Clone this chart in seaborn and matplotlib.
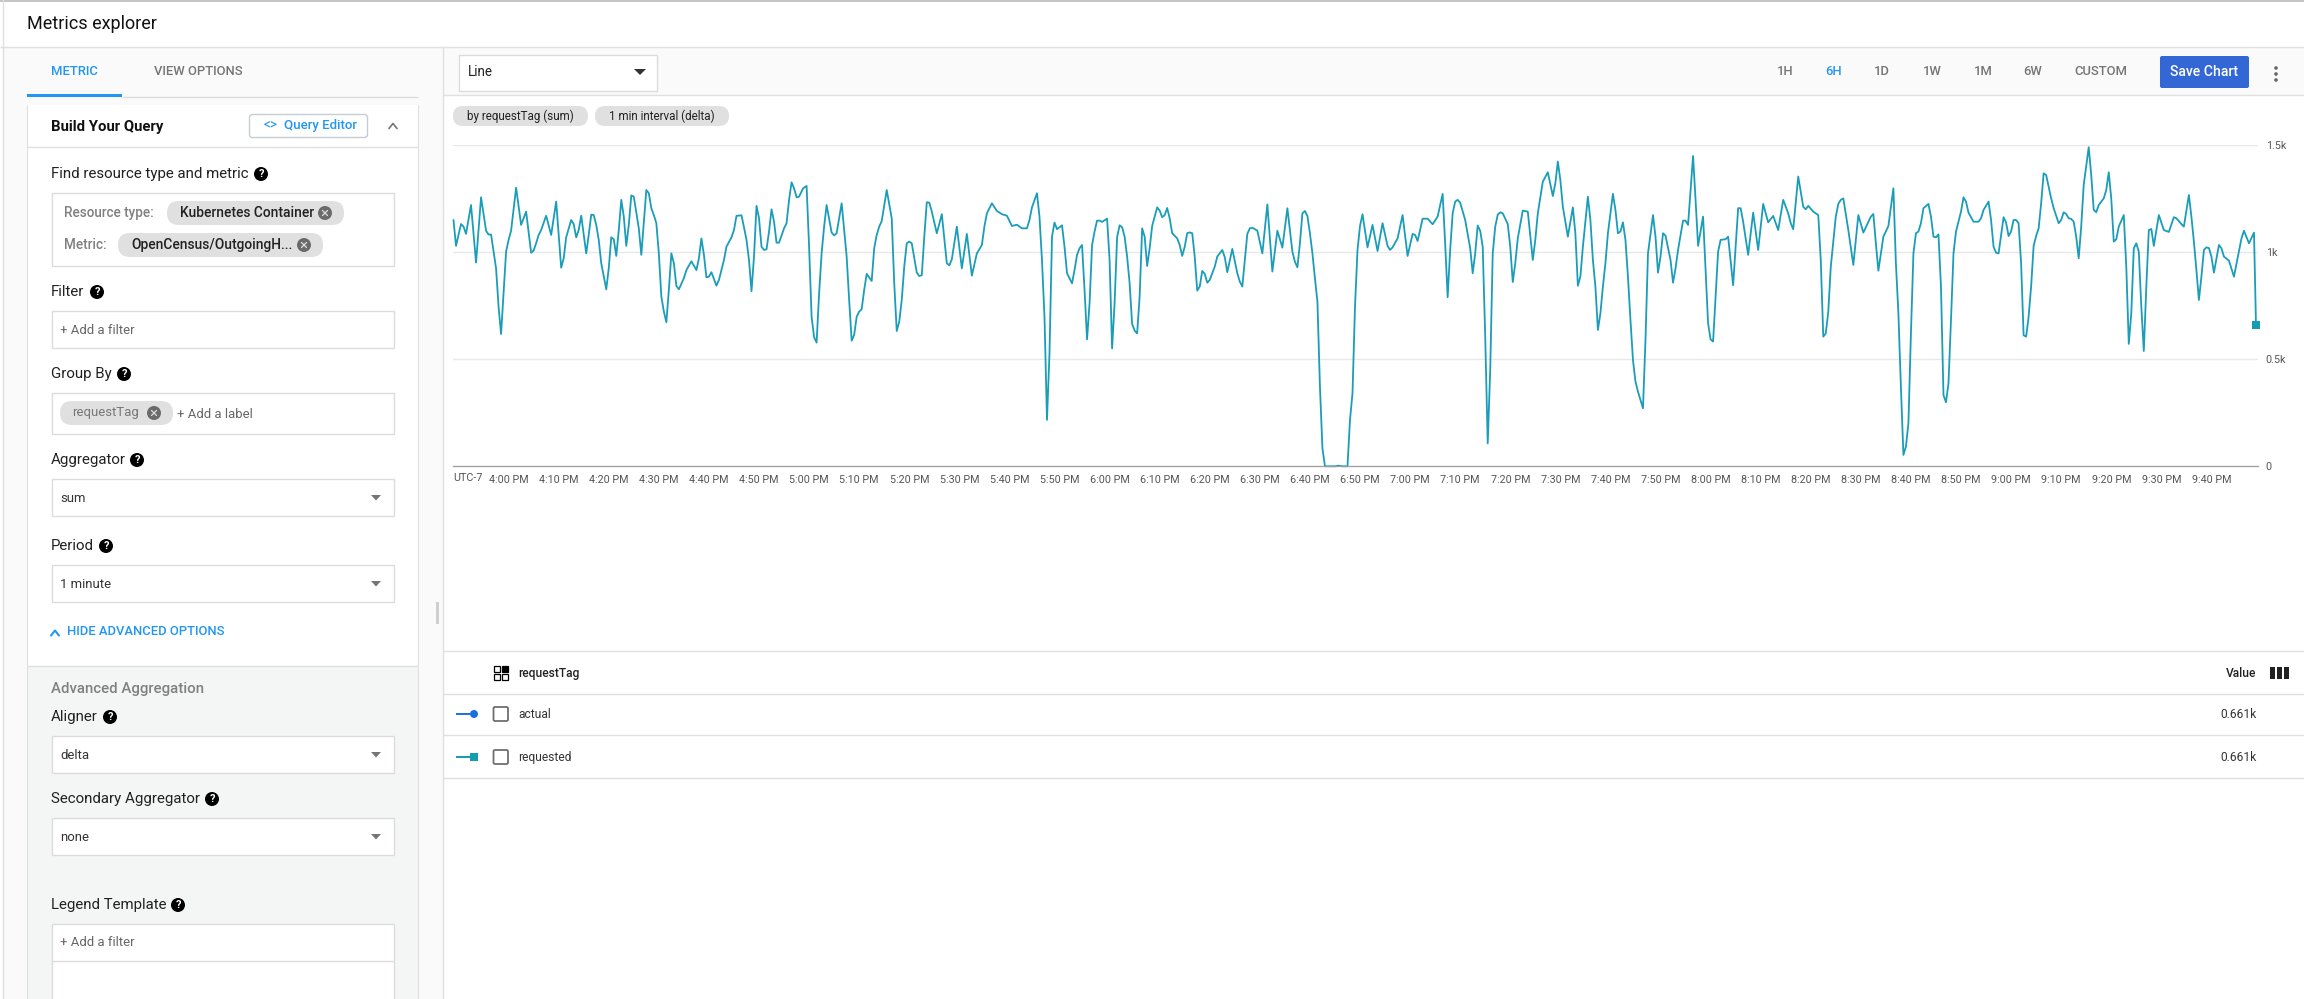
import pandas as pd
import matplotlib
matplotlib.use('Agg')
import matplotlib.pyplot as plt
from matplotlib.patches import Rectangle, FancyBboxPatch, Circle, Polygon
import seaborn as sns

# ---- data: minutes after 4:00 PM, request count ----
minutes = [
    -11, -10.5, -9.5, -9, -8.5, -7.5, -6.5, -5.5, -4.5, -4,
    -3.5, -2.5, -2, -1.5, -0.5, 0, 0.5, 1.5, 2.5, 3.5,
    4.5, 5, 5.5, 6, 6.5, 7.5, 8.5, 9.5, 10.5, 11,
    11.5, 12.5, 13, 13.5, 14, 14.5, 15.5, 16, 16.5, 17,
    17.5, 18, 18.5, 19.5, 20, 20.5, 21, 21.5, 22, 22.5,
    23, 23.5, 24, 24.5, 25, 26, 26.5, 27.5, 28, 28.5,
    29, 29.5, 30, 30.5, 31, 31.5, 32, 32.5, 33, 33.5,
    34, 35, 35.5, 36.5, 37.5, 38, 38.5, 39, 39.5, 40,
    40.5, 41.5, 42, 43, 43.5, 44.5, 45, 45.5, 46.5, 47,
    47.5, 48, 48.5, 49, 49.5, 50, 50.5, 51, 51.5, 52,
    52.5, 53, 53.5, 54, 55, 55.5, 56, 56.5, 57, 57.5,
    58, 58.8, 59.5, 60, 60.5, 61, 61.5, 62, 62.5, 63,
    63.5, 64.5, 65, 65.5, 66.5, 67.5, 68, 68.5, 69, 69.5,
    70, 70.5, 71, 71.5, 72.5, 73, 73.5, 74, 74.5, 75.5,
    76.5, 77, 77.5, 78, 78.5, 79, 79.5, 80, 80.5, 81.5,
    82, 82.5, 83, 83.5, 84, 84.5, 85.5, 86.5, 87.5, 88,
    88.5, 89.5, 90.5, 91.5, 92.5, 93.5, 94.5, 95, 95.5, 96.5,
    97.5, 98.5, 99.5, 100.5, 101.5, 102.5, 103.5, 104, 104.5, 105.5,
    106, 106.5, 107, 107.5, 108, 108.5, 109, 109.5, 110.5, 111,
    111.5, 112.5, 113, 113.5, 114, 114.5, 115, 115.5, 116, 116.5,
    117, 117.5, 118, 118.5, 119.5, 120, 120.5, 121, 121.5, 122,
    122.5, 123, 123.5, 124, 124.5, 125, 125.5, 126, 126.5, 127,
    127.5, 128, 128.5, 129.5, 130, 130.5, 131, 131.5, 132, 132.5,
    133.5, 134, 134.5, 135, 135.5, 136, 136.5, 137, 137.5, 138,
    138.5, 139, 139.5, 140, 141, 141.5, 142.5, 143, 143.5, 144.5,
    145.5, 146, 146.5, 147, 147.5, 148, 148.5, 149.5, 150.5, 151.5,
    152.5, 153.5, 154.5, 155.5, 156.5, 157, 157.5, 158, 158.5, 159,
    159.5, 160, 160.5, 161, 161.5, 162, 162.5, 163, 164, 165,
    165.7, 166.5, 167.5, 168, 168.5, 169, 169.5, 170, 170.5, 171.5,
    172.5, 173.5, 174.5, 175.5, 176, 176.5, 177.5, 178.5, 179.5, 180.5,
    181, 181.5, 182.5, 183.5, 184.5, 185.5, 186.5, 187, 187.5, 188,
    188.5, 189, 189.5, 190, 191, 192, 192.5, 193, 193.5, 194,
    194.5, 195, 195.5, 196, 196.5, 197, 197.5, 198, 198.5, 199.5,
    200, 200.5, 201, 201.5, 202.5, 203.5, 204.5, 205, 205.5, 206.5,
    207.5, 208.5, 209, 209.5, 210, 210.5, 211.5, 212.5, 213, 213.5,
    214, 214.5, 215.5, 216, 216.5, 217, 217.5, 218, 218.5, 219,
    219.5, 220.5, 221, 221.5, 222, 222.5, 223, 223.5, 224, 224.5,
    225, 225.5, 226.5, 227, 227.5, 228.5, 229, 229.5, 230, 230.5,
    231, 232, 232.5, 233, 233.5, 234.5, 235, 235.5, 236.5, 237,
    237.5, 238.5, 239, 239.5, 240, 240.5, 241.5, 242, 243, 243.5,
    244.5, 245.5, 246, 246.5, 247.5, 248.5, 249.5, 250.5, 251.5, 252.5,
    253.5, 254.5, 255.5, 256, 256.5, 257.5, 258.5, 259, 259.5, 260.5,
    261.5, 262, 262.5, 263, 263.5, 264, 264.5, 265, 265.5, 266,
    266.5, 267.5, 268.5, 269.5, 270.5, 272, 272.5, 273, 273.5, 274.5,
    275.5, 276.5, 277, 277.5, 278, 278.5, 279, 279.5, 280, 280.5,
    281, 281.5, 282, 282.5, 283.5, 284, 284.5, 285, 285.5, 286,
    286.5, 287, 287.5, 288, 288.5, 289, 290, 290.5, 291, 291.5,
    292.5, 293.5, 294, 294.5, 295.5, 296, 296.5, 297, 297.5, 298.5,
    299, 299.5, 300, 300.5, 301, 301.5, 302, 302.5, 303, 303.5,
    304, 304.5, 305, 305.5, 306, 306.5, 307, 308, 308.5, 309.5,
    310, 310.5, 311, 311.5, 312, 312.5, 313, 313.5, 314, 314.5,
    315.5, 316, 316.5, 317, 317.5, 318.5, 319, 319.5, 320, 320.5,
    321, 321.5, 322.5, 323, 323.5, 324, 324.5, 325, 325.5, 326,
    326.5, 327, 327.5, 328, 328.5, 329.5, 330.5, 331.5, 332.5, 333,
    334, 334.5, 335.5, 336, 336.5, 337, 337.5, 338, 338.5, 339,
    339.5, 340, 340.5, 341.5, 342, 342.5, 343.5, 344.5, 346, 346.5,
    347.5, 348.5, 348.9,
]
requests = [
    1151, 1030, 1132, 1120, 1086, 1221, 952, 1257, 1101, 1083,
    1083, 925, 746, 618, 1003, 1058, 1101, 1302, 1128, 1190,
    998, 1008, 1042, 1081, 1104, 1171, 1081, 1237, 928, 972,
    1070, 1151, 1132, 1070, 1104, 1171, 995, 1081, 1176, 1174,
    1128, 1058, 949, 827, 925, 1070, 1061, 983, 1104, 1245,
    1167, 1030, 1128, 1266, 1260, 1112, 988, 1291, 1276, 1206,
    1174, 1136, 995, 793, 723, 673, 824, 995, 949, 843,
    827, 879, 917, 958, 917, 972, 1065, 988, 883, 886,
    907, 844, 871, 964, 1026, 1070, 1104, 1170, 1173, 1117,
    1058, 964, 818, 980, 1217, 1159, 1026, 1011, 1014, 1097,
    1201, 1143, 1045, 1045, 1112, 1136, 1245, 1327, 1299, 1257,
    1260, 1299, 1310, 1026, 699, 603, 578, 808, 995, 1120,
    1221, 1092, 1079, 1089, 1229, 980, 777, 587, 614, 699,
    723, 734, 824, 899, 866, 1019, 1081, 1120, 1146, 1291,
    1159, 855, 632, 676, 777, 933, 1042, 1050, 1042, 905,
    889, 893, 1073, 1234, 1232, 1190, 1089, 1178, 949, 939,
    967, 1120, 925, 1086, 891, 995, 1034, 1120, 1182, 1229,
    1193, 1178, 1171, 1123, 1129, 1112, 1112, 1151, 1210, 1276,
    1167, 964, 699, 217, 528, 1073, 1139, 1108, 1126, 1026,
    902, 855, 917, 988, 1019, 1034, 824, 593, 762, 1034,
    1097, 1148, 1148, 1142, 1157, 964, 551, 762, 1070, 1126,
    1117, 1073, 980, 855, 665, 634, 621, 793, 1112, 1073,
    936, 1019, 1123, 1210, 1195, 1164, 1174, 1207, 1159, 1089,
    1065, 1034, 983, 1026, 1089, 1093, 1089, 980, 821, 840,
    913, 899, 858, 871, 933, 980, 1011, 977, 907, 1016,
    902, 863, 840, 964, 1086, 1112, 1115, 1101, 995, 1224,
    910, 1101, 1022, 1206, 1003, 956, 930, 1042, 1182, 1193,
    1170, 1089, 995, 879, 769, 372, 84, 0, 0, 0,
    3, 0, 0, 217, 341, 746, 1011, 1123, 1178, 1023,
    1128, 1006, 1136, 1030, 1011, 1023, 1065, 1174, 983, 1086,
    1081, 1053, 1157, 1157, 1131, 1167, 1273, 1042, 790, 1011,
    1182, 1237, 1245, 1232, 1151, 1019, 902, 995, 1125, 1100,
    1026, 606, 107, 450, 995, 1120, 1176, 1187, 1182, 1132,
    1026, 861, 949, 1065, 1195, 1190, 964, 1058, 1182, 1330,
    1374, 1263, 1322, 1424, 1338, 1213, 1073, 1210, 1089, 844,
    886, 1026, 1260, 1151, 964, 840, 637, 715, 840, 949,
    1089, 1273, 1198, 1089, 1097, 1140, 1058, 886, 684, 497,
    396, 349, 271, 590, 995, 1174, 1073, 905, 980, 1089,
    1078, 964, 858, 925, 1011, 1148, 1148, 1128, 1450, 1245,
    1030, 1167, 917, 668, 593, 583, 1003, 1058, 1061, 1073,
    846, 1206, 1206, 1143, 988, 1185, 1011, 1226, 1140, 1170,
    1104, 1245, 1182, 1136, 1108, 1354, 1213, 1201, 1217, 1190,
    1174, 964, 606, 621, 723, 933, 1050, 1167, 1226, 1245,
    1252, 1104, 941, 1174, 1092, 1167, 1179, 1042, 914, 1073,
    1123, 1299, 949, 715, 372, 53, 92, 201, 621, 995,
    1089, 1097, 1136, 1206, 1226, 1167, 1073, 1070, 1084, 840,
    333, 299, 388, 684, 995, 1097, 1190, 1257, 1237, 1185,
    1143, 1143, 1159, 1198, 1237, 1151, 1026, 998, 995, 1164,
    1139, 1076, 1097, 1151, 1151, 1136, 949, 612, 606, 699,
    840, 1030, 1076, 1112, 1229, 1369, 1361, 1252, 1206, 1136,
    1151, 1187, 1179, 1159, 1156, 1143, 1073, 972, 1120, 1315,
    1491, 1361, 1198, 1187, 1221, 1252, 1291, 1374, 1252, 1050,
    1061, 1120, 1174, 933, 572, 715, 1019, 1042, 1003, 746,
    539, 840, 1104, 1109, 1030, 1174, 1104, 1095, 1164, 1159,
    1132, 1120, 1268, 1167, 1050, 917, 777, 886, 1011, 1023,
    1020, 980, 905, 1034, 1019, 980, 961, 886, 1065, 1101,
    1042, 1092, 661,
]

tick_minutes = [0, 10, 20, 30, 40, 50, 60, 70, 80, 90, 100, 110, 120, 130, 140, 150, 160, 170,
                180, 190, 200, 210, 220, 230, 240, 250, 260, 270, 280, 290, 300, 310, 320, 330, 340]
tick_labels = ['4:00 PM', '4:10 PM', '4:20 PM', '4:30 PM', '4:40 PM', '4:50 PM',
               '5:00 PM', '5:10 PM', '5:20 PM', '5:30 PM', '5:40 PM', '5:50 PM',
               '6:00 PM', '6:10 PM', '6:20 PM', '6:30 PM', '6:40 PM', '6:50 PM',
               '7:00 PM', '7:10 PM', '7:20 PM', '7:30 PM', '7:40 PM', '7:50 PM',
               '8:00 PM', '8:10 PM', '8:20 PM', '8:30 PM', '8:40 PM', '8:50 PM',
               '9:00 PM', '9:10 PM', '9:20 PM', '9:30 PM', '9:40 PM']
y_ticks = [0, 500, 1000, 1500]
y_labels = ['0', '0.5k', '1k', '1.5k']

legend_rows = ['actual', 'requested']
legend_values = ['0.661k', '0.661k']
range_buttons = ['1H', '6H', '1D', '1W', '1M', '6W', 'CUSTOM']

TEAL = '#1a9db8'
TEAL_MARK = '#129eaf'
BLUE = '#2196f3'
ROYAL = '#1a6fe0'
GREY = '#757575'
LINE = '#e0e0e0'

W, H = 2304, 999
sns.set_theme(style='white')
plt.rcParams['font.family'] = ['Roboto', 'DejaVu Sans']

fig = plt.figure(figsize=(W / 100, H / 100), dpi=100, facecolor='white')

# full figure layer in pixels for the console around the chart
ui = fig.add_axes([0, 0, 1, 1], zorder=0)
ui.set_xlim(0, W)
ui.set_ylim(H, 0)
ui.axis('off')


def px(size):
    return size * 0.72


def label(x, y, s, size=15, color='#212121', weight='normal', ha='left'):
    ui.text(x, y + 1.2, s, fontsize=px(size), color=color, fontweight=weight, ha=ha, va='center')


def rect(x0, y0, x1, y1, fc='white', ec='none', lw=1.0):
    ui.add_patch(Rectangle((x0, y0), x1 - x0, y1 - y0, fc=fc, ec=ec, lw=lw))


def hline(y, x0, x1, color=LINE, lw=1.0):
    ui.plot([x0, x1], [y, y], color=color, lw=lw, solid_capstyle='butt')


def rounded(x0, y0, x1, y1, r, fc, ec='none', lw=1.0):
    ui.add_patch(FancyBboxPatch((x0, y0), x1 - x0, y1 - y0, boxstyle=f'round,pad=0,rounding_size={r}',
                                fc=fc, ec=ec, lw=lw))


def help_icon(x, y):
    ui.add_patch(Circle((x, y), 7, fc='black', ec='none'))
    ui.text(x, y + 0.3, '?', fontsize=px(11), color='white', fontweight='bold', ha='center', va='center')


def close_icon(x, y):
    ui.add_patch(Circle((x, y), 7, fc='#6b6b6b', ec='none'))
    ui.plot([x - 2.5, x + 2.5], [y - 2.5, y + 2.5], color='#e0e0e0', lw=0.9)
    ui.plot([x - 2.5, x + 2.5], [y + 2.5, y - 2.5], color='#e0e0e0', lw=0.9)


def arrow(x, y):
    ui.add_patch(Polygon([(x - 5, y - 2.5), (x + 5, y - 2.5), (x, y + 3)], fc='#757575', ec='none'))


def chevron(x, y, color, lw=1.2):
    ui.plot([x - 4, x, x + 4], [y + 2.5, y - 2.5, y + 2.5], color=color, lw=lw)


def field(y0, y1, text=None, color='#333333', drop=False):
    rect(51.5, y0, 393.5, y1, fc='white', ec='#dcdcdc', lw=1.0)
    if text:
        label(60, (y0 + y1) / 2, text, size=13.1, color=color)
    if drop:
        arrow(376, (y0 + y1) / 2 + 0.5)


# page background and header
rect(3, 47, 443, H, fc='#fafafa')
ui.plot([2.5, 2.5], [0, H], color=LINE, lw=1.0)
rect(0, 0, W, 2, fc='#c4c4c4')
hline(47, 0, W)
label(27, 22.5, 'Metrics explorer', size=18, color='#111111')

# left panel, tabs
label(51, 70, 'METRIC', size=13, color=BLUE, weight='medium')
label(154, 70.5, 'VIEW OPTIONS', size=13, color=GREY, weight='medium')
hline(96.5, 122, 418, color='#dddddd')
rect(27, 94, 122, 96.5, fc=BLUE)

# left panel, card
rect(27, 105, 418, 666, fc='white')
rect(27, 666, 418, H, fc='#f4f6f6')
hline(666, 27, 418)
hline(147, 27, 418)
ui.plot([27, 27], [105, H], color=LINE, lw=0.8)
ui.plot([418, 418], [105, H], color=LINE, lw=0.8)
label(51, 125.5, 'Build Your Query', size=14.9, color='#111111', weight='bold')
rounded(249.5, 114.5, 367.5, 137.5, 3, 'white', ec='#c5ccd3', lw=1.0)
label(270, 124.5, '<>', size=13.5, color=BLUE, ha='center')
label(284, 124.5, 'Query Editor', size=13.2, color=BLUE, weight='medium')
chevron(393, 126, '#757575')

label(51, 173, 'Find resource type and metric', size=15)
help_icon(261, 174)
rect(51.5, 192.5, 393.5, 265.5, fc='white', ec='#dcdcdc')
label(64, 212, 'Resource type:', size=13.5, color='#808080', weight='medium')
rounded(167, 201, 344, 225, 12, '#e0e0e0')
label(180, 212, 'Kubernetes Container', size=13.7, color='#222222', weight='medium')
close_icon(325, 213)
label(64, 244, 'Metric:', size=13.5, color='#808080', weight='medium')
rounded(118, 233, 323, 257, 12, '#e0e0e0')
label(131, 244, 'OpenCensus/OutgoingH...', size=13.7, color='#222222', weight='medium')
close_icon(304, 245)

label(51, 291, 'Filter', size=15)
help_icon(97, 292)
field(310.5, 347.5, '+ Add a filter', color='#666666')

label(51, 373, 'Group By', size=15)
help_icon(124, 374)
field(392.5, 433.5)
rounded(60, 401, 173, 425, 12, '#e0e0e0')
label(72, 411.5, 'requestTag', size=13.1, color='#777777')
close_icon(154, 413)
label(177, 413, '+ Add a label', size=13.1, color='#666666')

label(51, 459, 'Aggregator', size=15)
help_icon(137, 460)
field(478.5, 515.5, 'sum', drop=True)

label(51, 545, 'Period', size=15)
help_icon(106, 546)
field(564.5, 601.5, '1 minute', drop=True)

chevron(55, 633, BLUE, lw=1.5)
label(67, 630, 'HIDE ADVANCED OPTIONS', size=13, color=BLUE, weight='medium')

label(51, 688, 'Advanced Aggregation', size=15, color='#808080', weight='medium')
label(51, 716, 'Aligner', size=15)
help_icon(110, 717)
field(735.5, 772.5, 'delta', drop=True)

label(51, 798, 'Secondary Aggregator', size=15)
help_icon(212, 799)
field(817.5, 854.5, 'none', drop=True)

label(51, 904, 'Legend Template', size=15)
help_icon(178, 905)
rect(51.5, 924, 393.5, 1010, fc='white', ec='#dcdcdc')
hline(960.5, 51.5, 393.5, color='#dcdcdc')
label(60, 941, '+ Add a filter', size=13.1, color='#666666')

rect(436, 602, 439, 624, fc='#cfcfcf')
ui.plot([443, 443], [47, H], color=LINE, lw=1.0)

# toolbar above the chart
rect(444, 47, W, 95, fc='#fafafa')
hline(95, 443, W)
rect(458.5, 54.5, 656.5, 90.5, fc='white', ec='#dcdcdc')
label(468, 70.5, 'Line', size=13.5)
ui.add_patch(Polygon([(634, 69), (646, 69), (640, 75)], fc='#333333', ec='none'))
for name, xc in zip(range_buttons, [1785, 1834, 1882, 1932, 1983, 2033, 2101]):
    label(xc, 70.5, name, size=13, color=BLUE if name == '6H' else GREY, weight='medium', ha='center')
rounded(2160, 56, 2249, 88, 2, '#3367d6')
label(2204.5, 71, 'Save Chart', size=14, color='white', weight='medium', ha='center')
for dy in [68, 74, 80]:
    ui.add_patch(Circle((2276, dy), 1.8, fc='#666666', ec='none'))

# chips over the plot
rounded(453, 106, 588, 126, 10, '#e0e0e0')
label(520.5, 115.5, 'by requestTag (sum)', size=11.6, color='#222222', ha='center')
rounded(595, 106, 729, 126, 10, '#e0e0e0')
label(662, 115.5, '1 min interval (delta)', size=11.6, color='#222222', ha='center')
label(468, 476.5, 'UTC-7', size=10.8, color='#555555', ha='center')

# the chart itself
left, right, top, bottom = 453, 2257.5, 145.3, 466.3
ax = fig.add_axes([left / W, 1 - bottom / H, (right - left) / W, (bottom - top) / H], zorder=2)
ax.patch.set_alpha(0)
series = pd.DataFrame({'minutes': minutes, 'requests': requests})
sns.lineplot(data=series, x='minutes', y='requests', ax=ax, color=TEAL, linewidth=1.3,
             estimator=None, errorbar=None, clip_on=False)
sns.scatterplot(data=series.tail(1), x='minutes', y='requests', ax=ax, color=TEAL_MARK, marker='s',
                s=30, linewidth=0, clip_on=False)
ax.set_xlim(-11.1, 349.2)
ax.set_ylim(0, 1500)
ax.set_xlabel('')
ax.set_ylabel('')
ax.set_xticks(tick_minutes)
ax.set_xticklabels(tick_labels, fontsize=px(10.8), color='#555555')
ax.set_yticks(y_ticks)
ax.set_yticklabels(y_labels, fontsize=px(10.8), color='#555555')
ax.yaxis.tick_right()
ax.tick_params(axis='x', length=4, width=0.8, color='#9e9e9e', pad=2.4)
ax.tick_params(axis='y', length=0, pad=6)
ax.grid(axis='y', color='#e8e8e8', linewidth=1.0)
ax.set_axisbelow(True)
sns.despine(ax=ax, left=True, right=True, top=True)
ax.spines['bottom'].set_color('#9e9e9e')
ax.spines['bottom'].set_linewidth(0.9)

# legend table under the chart
for y in [651, 694, 735, 778]:
    hline(y, 443, W)
for xg, yg, filled in [(497, 669, False), (505, 669, True), (497, 677, False), (505, 677, False)]:
    rect(xg - 2.8, yg - 2.8, xg + 2.8, yg + 2.8, fc='black' if filled else 'white', ec='black', lw=0.9)
label(518, 672, 'requestTag', size=12, color='#222222', weight='medium')
label(2256, 672, 'Value', size=12, color='#222222', weight='medium', ha='right')
for xc in [2272, 2279, 2286]:
    rect(xc - 2.5, 667, xc + 2.5, 679, fc='#222222')
row_y = [714, 757]
for name, val, y, col, mark in zip(legend_rows, legend_values, row_y, [ROYAL, TEAL_MARK], ['circle', 'square']):
    hline(y, 456, 470, color=col, lw=1.4)
    if mark == 'circle':
        ui.add_patch(Circle((474, y), 4, fc=col, ec='none'))
    else:
        rect(470, y - 4, 478, y + 4, fc=col)
    rounded(493.5, y - 7, 508, y + 7, 1.5, 'white', ec='#6f6f6f', lw=1.3)
    label(518, y - 1, name, size=12, color='#333333')
    label(2257, y - 1, val, size=12, color='#333333', ha='right')

fig.savefig('out.png', dpi=100)
